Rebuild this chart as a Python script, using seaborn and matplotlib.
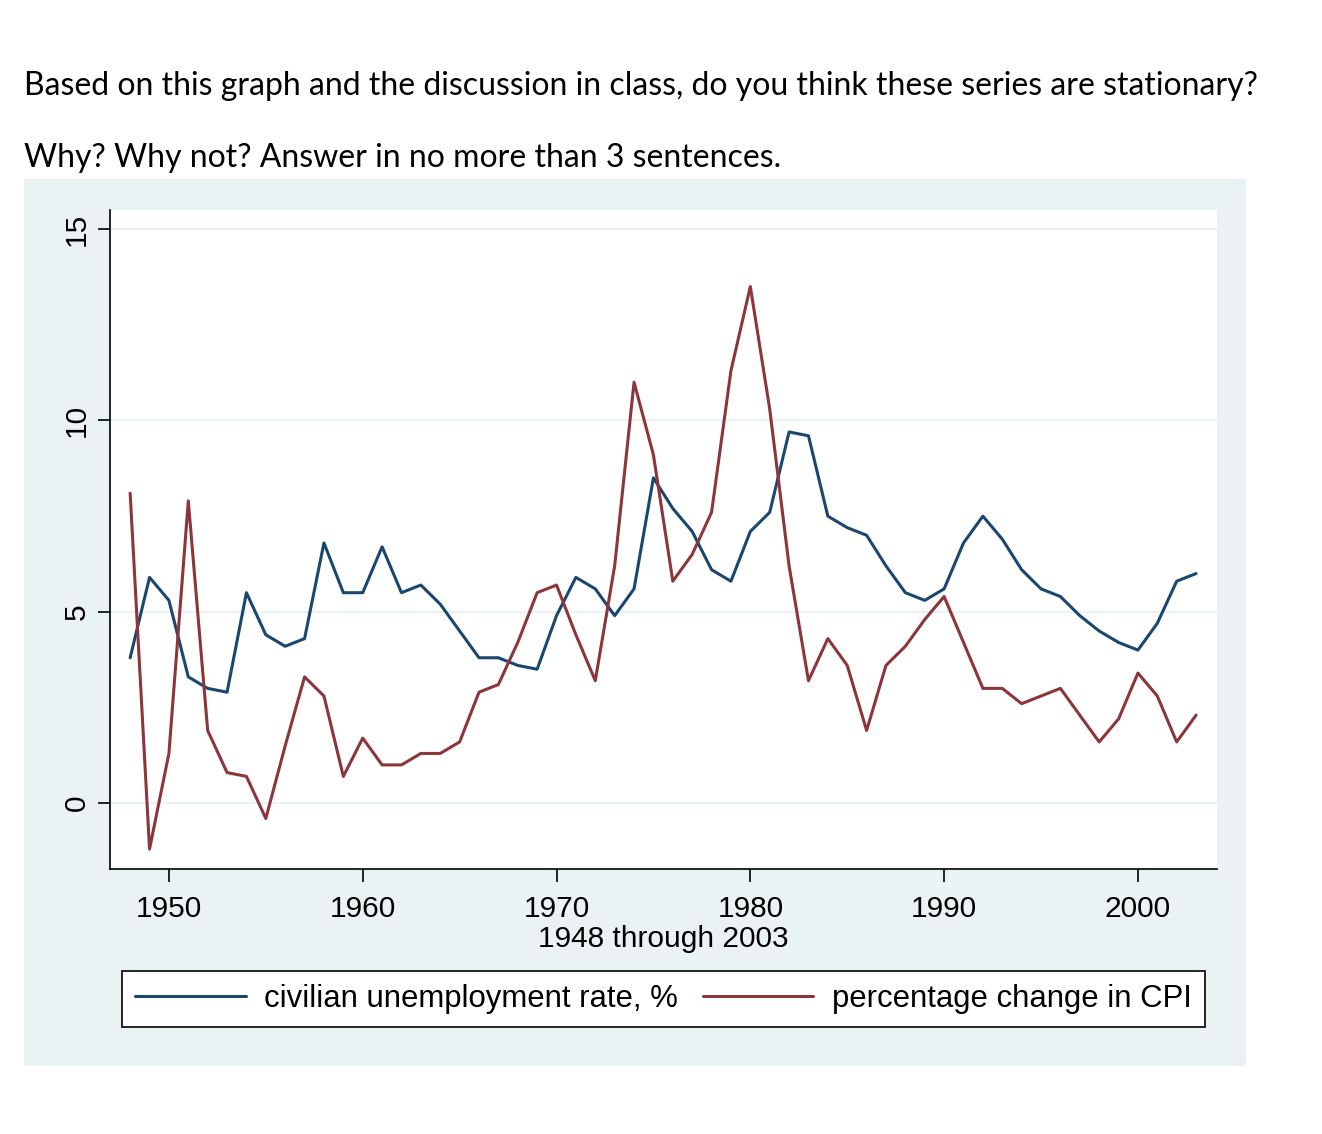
import matplotlib
matplotlib.use("Agg")
import matplotlib.pyplot as plt
import seaborn as sns
import pandas as pd
from matplotlib.patches import Rectangle
from matplotlib.lines import Line2D

years = list(range(1948, 2004))
unemployment = [3.8, 5.9, 5.3, 3.3, 3.0, 2.9, 5.5, 4.4, 4.1, 4.3,
                6.8, 5.5, 5.5, 6.7, 5.5, 5.7, 5.2, 4.5, 3.8, 3.8,
                3.6, 3.5, 4.9, 5.9, 5.6, 4.9, 5.6, 8.5, 7.7, 7.1,
                6.1, 5.8, 7.1, 7.6, 9.7, 9.6, 7.5, 7.2, 7.0, 6.2,
                5.5, 5.3, 5.6, 6.8, 7.5, 6.9, 6.1, 5.6, 5.4, 4.9,
                4.5, 4.2, 4.0, 4.7, 5.8, 6.0]
cpi_change = [8.1, -1.2, 1.3, 7.9, 1.9, 0.8, 0.7, -0.4, 1.5, 3.3,
              2.8, 0.7, 1.7, 1.0, 1.0, 1.3, 1.3, 1.6, 2.9, 3.1,
              4.2, 5.5, 5.7, 4.4, 3.2, 6.2, 11.0, 9.1, 5.8, 6.5,
              7.6, 11.3, 13.5, 10.3, 6.2, 3.2, 4.3, 3.6, 1.9, 3.6,
              4.1, 4.8, 5.4, 4.2, 3.0, 3.0, 2.6, 2.8, 3.0, 2.3,
              1.6, 2.2, 3.4, 2.8, 1.6, 2.3]
series_labels = ["civilian unemployment rate, %", "percentage change in CPI"]
x_ticks = [1950, 1960, 1970, 1980, 1990, 2000]
y_ticks = [0, 5, 10, 15]
question_lines = ["Based on this graph and the discussion in class, do you think these series are stationary?",
                  "Why? Why not? Answer in no more than 3 sentences."]
x_label = "1948 through 2003"

colors = ["#1a476f", "#8c363b"]

df = pd.DataFrame({
    "year": years * 2,
    "value": unemployment + cpi_change,
    "series": [series_labels[0]] * len(years) + [series_labels[1]] * len(years),
})

sns.set_style("white")
plt.rcParams["font.family"] = ["Liberation Sans", "DejaVu Sans"]
plt.rcParams["text.color"] = "black"
plt.rcParams["axes.labelcolor"] = "black"
plt.rcParams["xtick.color"] = "black"
plt.rcParams["ytick.color"] = "black"

W, H = 1322, 1134
fig = plt.figure(figsize=(W / 100, H / 100), dpi=100)
fig.patch.set_facecolor("white")

# background panel
fig.patches.append(Rectangle((24 / W, 1 - 1066 / H), (1246 - 24) / W, (1066 - 179) / H,
                             transform=fig.transFigure, facecolor="#eaf2f3",
                             edgecolor="none", zorder=-5))

ax = fig.add_axes([110 / W, 1 - 869 / H, (1217 - 110) / W, (869 - 210) / H])
ax.set_zorder(2)
ax.set_facecolor("white")

sns.lineplot(data=df, x="year", y="value", hue="series", palette=colors,
             hue_order=series_labels, linewidth=2.2, ax=ax, legend=False)

ax.set_xlim(1946.96, 2004.08)
ax.set_ylim(-1.72, 15.5)
ax.set_xticks(x_ticks)
ax.set_yticks(y_ticks)
ax.set_xticklabels([str(t) for t in x_ticks], fontsize=21.5)
ax.set_yticklabels([str(t) for t in y_ticks], fontsize=21.5, rotation=90, va="center")
ax.tick_params(axis="both", direction="out", length=9, width=1.2, color="black",
               bottom=True, left=True, pad=5)
ax.tick_params(axis="x", pad=10)
ax.grid(axis="y", color="#eaf2f3", linewidth=1.6)
ax.grid(axis="x", visible=False)
ax.set_axisbelow(True)
for s in ["top", "right"]:
    ax.spines[s].set_visible(False)
for s in ["left", "bottom"]:
    ax.spines[s].set_color("black")
    ax.spines[s].set_linewidth(1.2)
ax.set_xlabel(x_label, fontsize=21.5, labelpad=1)
ax.set_ylabel("")

handles = [Line2D([0], [0], color=c, linewidth=2.2) for c in colors]
leg = fig.legend(handles, series_labels, ncol=2, loc="upper left",
                 bbox_to_anchor=(122 / W, 1 - 1027 / H, (1205 - 122) / W, (1027 - 971) / H),
                 mode="expand", fontsize=22.4, frameon=True, fancybox=False,
                 edgecolor="black", framealpha=1, handlelength=3.55,
                 handletextpad=0.6, columnspacing=1.0, borderpad=0.42,
                 borderaxespad=0)
leg.get_frame().set_linewidth(1.2)
for t in leg.get_texts():
    t.set_color("black")

for i, line in enumerate(question_lines):
    fig.text(24 / W, 1 - (95 + i * 72) / H, line, fontsize=23,
             family=["Lato", "DejaVu Sans"], ha="left", va="baseline", color="black")

fig.savefig("out.png", dpi=100)
